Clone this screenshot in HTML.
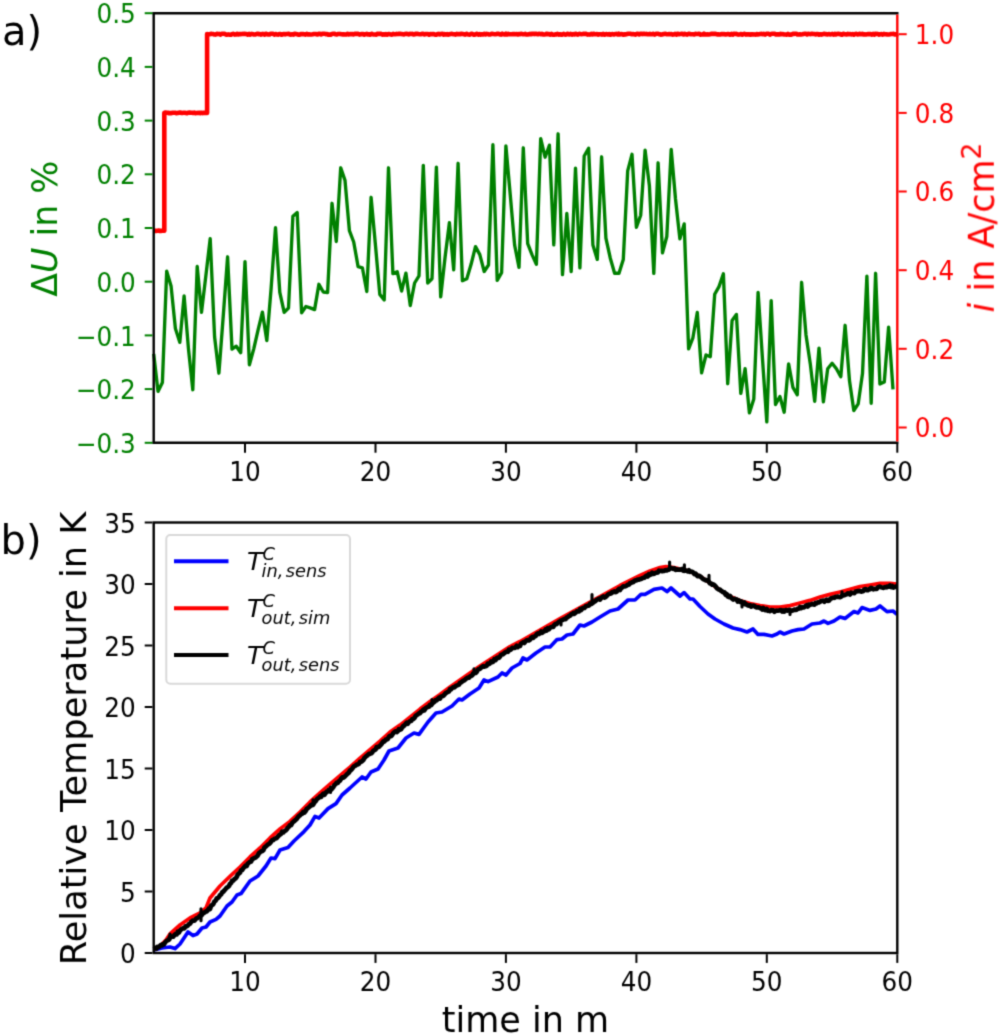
<!DOCTYPE html>
<html lang="en"><head><meta charset="utf-8"><title>Figure</title>
<style>html,body{margin:0;padding:0;background:#fff}svg{display:block}#fig{width:1000px;height:1035px;overflow:hidden}text{font-family:"DejaVu Sans","Liberation Sans",sans-serif}.it{font-style:italic}</style></head><body><div id="fig">
<svg width="1000" height="1035" viewBox="0 0 1000 1035">
<defs><filter id="soft" x="0" y="0" width="1000" height="1035" filterUnits="userSpaceOnUse" color-interpolation-filters="sRGB"><feConvolveMatrix order="3" kernelMatrix="0.0277 0.1110 0.0277 0.1110 0.4452 0.1110 0.0277 0.1110 0.0277" edgeMode="duplicate" preserveAlpha="false"/></filter></defs>
<rect width="1000" height="1035" fill="#fff"/>
<g filter="url(#soft)">
<g id="top">
<path d="M153.7 353.9 L158.0 391.4 L162.4 382.4 L166.7 271.1 L171.1 286.3 L175.4 328.6 L179.8 342.3 L184.1 295.9 L188.5 349.1 L192.8 389.7 L197.2 266.5 L201.5 312.4 L205.9 275.4 L210.2 238.7 L214.6 337.0 L218.9 373.2 L223.3 315.3 L227.6 256.8 L232.0 349.1 L236.3 346.2 L240.7 352.7 L245.0 261.6 L249.4 364.8 L253.7 349.1 L258.1 329.8 L262.4 312.1 L266.8 340.6 L271.1 288.7 L275.5 227.6 L279.8 292.3 L284.2 312.4 L288.5 308.0 L292.9 216.2 L297.2 212.6 L301.6 312.8 L305.9 306.5 L310.2 307.9 L314.6 309.6 L318.9 284.3 L323.3 292.0 L327.6 292.5 L332.0 203.3 L336.3 241.5 L340.7 167.8 L345.0 180.4 L349.4 230.6 L353.7 242.0 L358.1 266.6 L362.4 267.8 L366.8 291.5 L371.1 197.3 L375.5 245.6 L379.8 294.4 L384.2 300.0 L388.5 167.8 L392.9 273.6 L397.2 271.7 L401.6 291.0 L405.9 273.1 L410.3 305.5 L414.6 283.0 L419.0 275.8 L423.3 165.4 L427.7 283.0 L432.0 278.7 L436.4 167.1 L440.7 296.9 L445.1 257.0 L449.4 222.7 L453.7 269.8 L458.1 163.3 L462.4 280.7 L466.8 278.7 L471.1 264.3 L475.5 246.6 L479.8 254.6 L484.2 271.5 L488.5 265.0 L492.9 144.7 L497.2 280.4 L501.6 272.7 L505.9 145.9 L510.3 195.4 L514.6 244.9 L519.0 267.4 L523.3 147.8 L527.7 243.7 L532.0 254.6 L536.4 264.3 L540.7 138.6 L545.1 157.2 L549.4 145.2 L553.8 244.9 L558.1 133.8 L562.5 274.6 L566.8 213.5 L571.2 271.5 L575.5 168.1 L579.9 267.9 L584.2 156.0 L588.6 148.3 L592.9 244.9 L597.3 259.4 L601.6 156.8 L605.9 238.2 L610.3 258.2 L614.6 273.2 L619.0 273.2 L623.3 259.4 L627.7 170.8 L632.0 154.3 L636.4 227.3 L640.7 215.2 L645.1 150.2 L649.4 185.7 L653.8 273.4 L658.1 162.8 L662.5 252.9 L666.8 236.5 L671.2 149.5 L675.5 199.0 L679.9 238.9 L684.2 223.9 L688.6 348.9 L692.9 337.8 L697.3 312.5 L701.6 372.9 L706.0 355.0 L710.3 356.7 L714.7 294.3 L719.0 286.6 L723.4 273.8 L727.7 383.7 L732.1 320.4 L736.4 314.4 L740.8 393.4 L745.1 368.7 L749.4 412.9 L753.8 398.9 L758.1 292.4 L762.5 359.1 L766.8 421.9 L771.2 300.6 L775.5 404.5 L779.9 396.5 L784.2 412.2 L788.6 363.9 L792.9 387.3 L797.3 394.8 L801.6 282.3 L806.0 334.9 L810.3 363.9 L814.7 401.4 L819.0 348.2 L823.4 401.8 L827.7 368.7 L832.1 363.2 L836.4 368.7 L840.8 376.7 L845.1 325.3 L849.5 380.8 L853.8 410.5 L858.2 403.8 L862.5 373.6 L866.9 276.2 L871.2 403.3 L875.6 273.3 L879.9 384.0 L884.3 382.0 L888.6 327.2 L893.0 389.3" fill="none" stroke="#008000" stroke-width="3.35" stroke-linejoin="round" stroke-linecap="butt"/>
<path d="M153.7 230.7 L154.9 230.9 L156.1 230.9 L157.3 230.7 L158.5 230.6 L159.7 230.9 L160.9 230.9 L162.1 230.8 L163.3 230.7 L164.3 230.8 L164.3 112.9 L165.5 112.5 L166.7 112.7 L167.9 112.8 L169.1 113.2 L170.3 113.0 L171.5 113.1 L172.7 112.8 L173.9 112.7 L175.1 112.7 L176.3 113.2 L177.5 113.0 L178.7 112.7 L179.9 112.5 L181.1 112.9 L182.3 113.0 L183.5 112.8 L184.7 112.7 L185.9 113.0 L187.1 113.2 L188.3 112.7 L189.5 112.5 L190.7 112.7 L191.9 112.8 L193.1 113.0 L194.3 112.6 L195.5 113.1 L196.7 113.0 L197.9 112.9 L199.1 112.7 L200.3 113.2 L201.5 112.7 L202.7 113.1 L203.9 112.7 L205.1 112.7 L206.3 113.0 L207.1 112.9 L207.1 34.0 L208.3 34.7 L209.5 34.2 L210.7 33.9 L211.9 33.9 L213.1 34.1 L214.3 34.4 L215.5 34.6 L216.7 33.8 L217.9 34.1 L219.1 33.9 L220.3 34.7 L221.5 33.8 L222.7 33.8 L223.9 33.8 L225.1 34.1 L226.3 34.6 L227.5 34.6 L228.7 34.4 L229.9 34.7 L231.1 34.6 L232.3 34.0 L233.5 33.9 L234.7 34.6 L235.9 34.4 L237.1 33.7 L238.3 34.4 L239.5 34.1 L240.7 34.1 L241.9 34.0 L243.1 33.9 L244.3 33.7 L245.5 34.0 L246.7 34.1 L247.9 34.7 L249.1 33.8 L250.3 34.7 L251.5 33.9 L252.7 34.1 L253.9 34.5 L255.1 34.5 L256.3 34.1 L257.5 33.7 L258.7 34.2 L259.9 34.1 L261.1 34.6 L262.3 33.9 L263.5 34.1 L264.7 34.6 L265.9 33.7 L267.1 34.1 L268.3 34.5 L269.5 34.5 L270.7 33.7 L271.9 33.7 L273.1 33.8 L274.3 34.6 L275.5 34.0 L276.7 34.4 L277.9 34.6 L279.1 34.0 L280.3 34.0 L281.5 34.7 L282.7 34.3 L283.9 34.0 L285.1 34.4 L286.3 34.0 L287.5 34.0 L288.7 33.7 L289.9 34.5 L291.1 34.6 L292.3 34.3 L293.5 34.6 L294.7 33.7 L295.9 33.9 L297.1 34.2 L298.3 34.7 L299.5 34.7 L300.7 34.1 L301.9 34.0 L303.1 34.1 L304.3 34.2 L305.5 34.6 L306.7 33.9 L307.9 34.5 L309.1 34.4 L310.3 34.5 L311.5 34.5 L312.7 34.3 L313.9 34.0 L315.1 34.0 L316.3 34.1 L317.5 34.5 L318.7 33.8 L319.9 33.9 L321.1 34.5 L322.3 33.9 L323.5 33.8 L324.7 33.7 L325.9 34.3 L327.1 34.0 L328.3 34.7 L329.5 34.6 L330.7 34.7 L331.9 34.0 L333.1 33.8 L334.3 33.8 L335.5 34.2 L336.7 34.4 L337.9 34.1 L339.1 33.9 L340.3 34.1 L341.5 34.3 L342.7 34.4 L343.9 34.4 L345.1 34.5 L346.3 34.4 L347.5 33.8 L348.7 34.5 L349.9 34.0 L351.1 34.3 L352.3 34.1 L353.5 34.4 L354.7 33.9 L355.9 33.9 L357.1 33.9 L358.3 33.9 L359.5 34.6 L360.7 34.3 L361.9 34.0 L363.1 34.1 L364.3 34.7 L365.5 34.2 L366.7 33.9 L367.9 34.5 L369.1 34.4 L370.3 34.7 L371.5 33.8 L372.7 34.2 L373.9 34.5 L375.1 34.5 L376.3 34.6 L377.5 33.7 L378.7 34.0 L379.9 33.8 L381.1 33.9 L382.3 34.7 L383.5 34.3 L384.7 34.6 L385.9 34.1 L387.1 34.6 L388.3 34.1 L389.5 34.0 L390.7 34.5 L391.9 34.6 L393.1 33.8 L394.3 34.3 L395.5 34.3 L396.7 33.9 L397.9 34.1 L399.1 33.8 L400.3 33.9 L401.5 34.0 L402.7 34.3 L403.9 34.4 L405.1 33.9 L406.3 33.7 L407.5 34.0 L408.7 34.4 L409.9 33.9 L411.1 34.0 L412.3 33.9 L413.5 34.5 L414.7 34.2 L415.9 33.8 L417.1 33.8 L418.3 34.1 L419.5 34.3 L420.7 34.3 L421.9 33.8 L423.1 33.9 L424.3 34.4 L425.5 34.1 L426.7 34.0 L427.9 34.0 L429.1 34.7 L430.3 34.0 L431.5 34.3 L432.7 34.1 L433.9 34.1 L435.1 34.6 L436.3 34.7 L437.5 34.1 L438.7 33.9 L439.9 34.4 L441.1 33.9 L442.3 33.7 L443.5 34.6 L444.7 34.1 L445.9 34.5 L447.1 34.1 L448.3 34.6 L449.5 34.2 L450.7 33.9 L451.9 33.7 L453.1 34.3 L454.3 34.3 L455.5 34.6 L456.7 33.8 L457.9 34.3 L459.1 34.1 L460.3 34.2 L461.5 33.8 L462.7 34.0 L463.9 34.2 L465.1 34.6 L466.3 33.8 L467.5 34.2 L468.7 34.5 L469.9 34.7 L471.1 33.9 L472.3 33.8 L473.5 34.6 L474.7 34.7 L475.9 34.2 L477.1 33.8 L478.3 34.6 L479.5 34.1 L480.7 34.6 L481.9 34.3 L483.1 34.5 L484.3 33.9 L485.5 34.5 L486.7 33.9 L487.9 34.1 L489.1 34.5 L490.3 34.5 L491.5 33.9 L492.7 33.9 L493.9 34.1 L495.1 34.2 L496.3 34.1 L497.5 33.8 L498.7 33.9 L499.9 34.4 L501.1 34.6 L502.3 33.7 L503.5 34.3 L504.7 34.5 L505.9 33.7 L507.1 34.5 L508.3 33.8 L509.5 34.3 L510.7 34.3 L511.9 34.3 L513.1 34.0 L514.3 34.1 L515.5 34.3 L516.7 34.1 L517.9 34.4 L519.1 34.1 L520.3 34.1 L521.5 33.7 L522.7 34.3 L523.9 34.2 L525.1 33.9 L526.3 34.5 L527.5 34.5 L528.7 34.2 L529.9 33.9 L531.1 34.2 L532.3 33.8 L533.5 33.8 L534.7 34.1 L535.9 33.8 L537.1 34.1 L538.3 34.2 L539.5 33.7 L540.7 34.3 L541.9 33.8 L543.1 34.4 L544.3 34.5 L545.5 34.2 L546.7 33.8 L547.9 34.2 L549.1 34.1 L550.3 34.7 L551.5 33.8 L552.7 34.6 L553.9 34.7 L555.1 34.4 L556.3 34.5 L557.5 33.9 L558.7 34.7 L559.9 34.2 L561.1 34.7 L562.3 34.6 L563.5 33.9 L564.7 34.5 L565.9 34.6 L567.1 33.8 L568.3 34.1 L569.5 34.5 L570.7 33.9 L571.9 34.6 L573.1 34.0 L574.3 34.5 L575.5 33.8 L576.7 34.2 L577.9 34.6 L579.1 33.9 L580.3 34.0 L581.5 34.2 L582.7 34.0 L583.9 33.7 L585.1 33.9 L586.3 33.9 L587.5 34.6 L588.7 34.4 L589.9 34.6 L591.1 33.9 L592.3 34.5 L593.5 33.8 L594.7 34.2 L595.9 34.3 L597.1 34.1 L598.3 34.6 L599.5 34.3 L600.7 34.3 L601.9 34.6 L603.1 33.8 L604.3 34.7 L605.5 34.3 L606.7 34.1 L607.9 34.5 L609.1 34.0 L610.3 34.7 L611.5 34.3 L612.7 34.1 L613.9 34.5 L615.1 34.1 L616.3 33.9 L617.5 34.4 L618.7 33.7 L619.9 34.5 L621.1 34.0 L622.3 34.3 L623.5 34.7 L624.7 34.3 L625.9 34.4 L627.1 34.0 L628.3 33.7 L629.5 33.7 L630.7 33.8 L631.9 34.3 L633.1 34.1 L634.3 34.2 L635.5 34.6 L636.7 33.8 L637.9 33.9 L639.1 34.4 L640.3 33.7 L641.5 33.7 L642.7 34.1 L643.9 33.8 L645.1 34.1 L646.3 33.9 L647.5 34.3 L648.7 34.3 L649.9 33.9 L651.1 34.3 L652.3 34.2 L653.5 33.8 L654.7 34.6 L655.9 33.9 L657.1 33.8 L658.3 33.8 L659.5 34.3 L660.7 34.6 L661.9 34.5 L663.1 34.1 L664.3 34.0 L665.5 33.7 L666.7 34.3 L667.9 34.3 L669.1 34.1 L670.3 34.3 L671.5 34.1 L672.7 34.6 L673.9 34.4 L675.1 33.9 L676.3 34.6 L677.5 33.7 L678.7 34.2 L679.9 34.1 L681.1 33.9 L682.3 33.8 L683.5 34.5 L684.7 33.7 L685.9 34.3 L687.1 34.6 L688.3 33.8 L689.5 33.9 L690.7 34.3 L691.9 34.2 L693.1 34.3 L694.3 34.5 L695.5 33.9 L696.7 34.0 L697.9 34.0 L699.1 33.7 L700.3 34.6 L701.5 34.5 L702.7 34.4 L703.9 33.7 L705.1 34.5 L706.3 34.4 L707.5 34.2 L708.7 34.4 L709.9 34.2 L711.1 33.9 L712.3 33.8 L713.5 33.9 L714.7 33.7 L715.9 34.0 L717.1 34.4 L718.3 34.4 L719.5 34.5 L720.7 34.4 L721.9 34.0 L723.1 34.3 L724.3 34.1 L725.5 34.5 L726.7 34.2 L727.9 34.0 L729.1 34.3 L730.3 34.7 L731.5 33.9 L732.7 34.6 L733.9 33.7 L735.1 34.0 L736.3 33.9 L737.5 34.4 L738.7 34.6 L739.9 34.4 L741.1 34.0 L742.3 34.6 L743.5 34.0 L744.7 33.9 L745.9 34.6 L747.1 34.3 L748.3 34.4 L749.5 34.4 L750.7 34.7 L751.9 34.2 L753.1 34.5 L754.3 34.4 L755.5 34.6 L756.7 34.1 L757.9 34.4 L759.1 34.3 L760.3 34.0 L761.5 33.9 L762.7 34.3 L763.9 33.8 L765.1 34.6 L766.3 33.8 L767.5 33.7 L768.7 33.8 L769.9 34.6 L771.1 34.0 L772.3 33.8 L773.5 33.7 L774.7 33.7 L775.9 34.4 L777.1 34.3 L778.3 34.4 L779.5 34.4 L780.7 33.8 L781.9 34.3 L783.1 34.1 L784.3 34.5 L785.5 34.5 L786.7 34.6 L787.9 33.8 L789.1 34.6 L790.3 34.6 L791.5 34.6 L792.7 33.8 L793.9 33.9 L795.1 33.8 L796.3 33.7 L797.5 34.5 L798.7 34.5 L799.9 34.3 L801.1 34.5 L802.3 34.3 L803.5 34.0 L804.7 33.8 L805.9 33.8 L807.1 34.5 L808.3 33.9 L809.5 34.0 L810.7 34.1 L811.9 33.7 L813.1 34.0 L814.3 34.0 L815.5 34.4 L816.7 34.1 L817.9 34.0 L819.1 34.7 L820.3 34.2 L821.5 34.6 L822.7 34.3 L823.9 33.7 L825.1 34.1 L826.3 34.1 L827.5 34.5 L828.7 34.0 L829.9 34.4 L831.1 34.2 L832.3 33.9 L833.5 34.6 L834.7 33.8 L835.9 34.5 L837.1 33.9 L838.3 33.7 L839.5 33.9 L840.7 34.5 L841.9 34.7 L843.1 33.7 L844.3 34.2 L845.5 34.2 L846.7 34.5 L847.9 33.9 L849.1 34.2 L850.3 34.0 L851.5 34.5 L852.7 34.0 L853.9 34.6 L855.1 34.0 L856.3 33.9 L857.5 34.4 L858.7 34.2 L859.9 33.8 L861.1 34.3 L862.3 33.8 L863.5 34.5 L864.7 34.4 L865.9 34.5 L867.1 34.3 L868.3 34.1 L869.5 34.1 L870.7 34.1 L871.9 34.6 L873.1 33.8 L874.3 34.6 L875.5 33.7 L876.7 33.9 L877.9 34.0 L879.1 34.6 L880.3 34.2 L881.5 34.1 L882.7 34.6 L883.9 33.9 L885.1 34.2 L886.3 34.2 L887.5 34.5 L888.7 34.5 L889.9 34.3 L891.1 34.0 L892.3 34.0 L893.5 33.9 L894.7 34.5 L895.9 34.4 L897.1 34.4 L897.3 34.2" fill="none" stroke="#ff0000" stroke-width="4.6" stroke-linejoin="round" stroke-linecap="butt"/>
<path d="M153.7 12.0 V444.0" stroke="#000" stroke-width="2.4" fill="none"/>
<path d="M152.5 13.2 H898.5" stroke="#000" stroke-width="2.4" fill="none"/>
<path d="M152.5 442.8 H898.5" stroke="#000" stroke-width="2.4" fill="none"/>
<path d="M897.3 14.4 V441.6" stroke="#ff0000" stroke-width="2.4" fill="none"/>
<path d="M144.7 13.2 H152.5" stroke="#008000" stroke-width="2.0"/>
<text transform="translate(135.8 23.3) scale(0.99 1.06)" font-size="25" fill="#008000" text-anchor="end">0.5</text>
<path d="M144.7 66.9 H152.5" stroke="#008000" stroke-width="2.0"/>
<text transform="translate(135.8 77.0) scale(0.99 1.06)" font-size="25" fill="#008000" text-anchor="end">0.4</text>
<path d="M144.7 120.6 H152.5" stroke="#008000" stroke-width="2.0"/>
<text transform="translate(135.8 130.7) scale(0.99 1.06)" font-size="25" fill="#008000" text-anchor="end">0.3</text>
<path d="M144.7 174.3 H152.5" stroke="#008000" stroke-width="2.0"/>
<text transform="translate(135.8 184.4) scale(0.99 1.06)" font-size="25" fill="#008000" text-anchor="end">0.2</text>
<path d="M144.7 228.0 H152.5" stroke="#008000" stroke-width="2.0"/>
<text transform="translate(135.8 238.1) scale(0.99 1.06)" font-size="25" fill="#008000" text-anchor="end">0.1</text>
<path d="M144.7 281.7 H152.5" stroke="#008000" stroke-width="2.0"/>
<text transform="translate(135.8 291.8) scale(0.99 1.06)" font-size="25" fill="#008000" text-anchor="end">0.0</text>
<path d="M144.7 335.4 H152.5" stroke="#008000" stroke-width="2.0"/>
<text transform="translate(135.8 345.5) scale(0.99 1.06)" font-size="25" fill="#008000" text-anchor="end">−0.1</text>
<path d="M144.7 389.1 H152.5" stroke="#008000" stroke-width="2.0"/>
<text transform="translate(135.8 399.2) scale(0.99 1.06)" font-size="25" fill="#008000" text-anchor="end">−0.2</text>
<path d="M144.7 442.8 H152.5" stroke="#008000" stroke-width="2.0"/>
<text transform="translate(135.8 452.9) scale(0.99 1.06)" font-size="25" fill="#008000" text-anchor="end">−0.3</text>
<path d="M898.5 427.5 H906.7" stroke="#ff0000" stroke-width="2.0"/>
<text transform="translate(914.8 437.4) scale(0.99 1.06)" font-size="25" fill="#ff0000" text-anchor="start">0.0</text>
<path d="M898.5 348.8 H906.7" stroke="#ff0000" stroke-width="2.0"/>
<text transform="translate(914.8 358.7) scale(0.99 1.06)" font-size="25" fill="#ff0000" text-anchor="start">0.2</text>
<path d="M898.5 270.2 H906.7" stroke="#ff0000" stroke-width="2.0"/>
<text transform="translate(914.8 280.1) scale(0.99 1.06)" font-size="25" fill="#ff0000" text-anchor="start">0.4</text>
<path d="M898.5 191.5 H906.7" stroke="#ff0000" stroke-width="2.0"/>
<text transform="translate(914.8 201.4) scale(0.99 1.06)" font-size="25" fill="#ff0000" text-anchor="start">0.6</text>
<path d="M898.5 112.9 H906.7" stroke="#ff0000" stroke-width="2.0"/>
<text transform="translate(914.8 122.8) scale(0.99 1.06)" font-size="25" fill="#ff0000" text-anchor="start">0.8</text>
<path d="M898.5 34.2 H906.7" stroke="#ff0000" stroke-width="2.0"/>
<text transform="translate(914.8 44.1) scale(0.99 1.06)" font-size="25" fill="#ff0000" text-anchor="start">1.0</text>
<path d="M245.0 444.0 V452.7" stroke="#000" stroke-width="2.0"/>
<text transform="translate(245.0 480.8) scale(0.99 1.06)" font-size="25" fill="#000" text-anchor="middle">10</text>
<path d="M375.5 444.0 V452.7" stroke="#000" stroke-width="2.0"/>
<text transform="translate(375.5 480.8) scale(0.99 1.06)" font-size="25" fill="#000" text-anchor="middle">20</text>
<path d="M505.9 444.0 V452.7" stroke="#000" stroke-width="2.0"/>
<text transform="translate(505.9 480.8) scale(0.99 1.06)" font-size="25" fill="#000" text-anchor="middle">30</text>
<path d="M636.4 444.0 V452.7" stroke="#000" stroke-width="2.0"/>
<text transform="translate(636.4 480.8) scale(0.99 1.06)" font-size="25" fill="#000" text-anchor="middle">40</text>
<path d="M766.8 444.0 V452.7" stroke="#000" stroke-width="2.0"/>
<text transform="translate(766.8 480.8) scale(0.99 1.06)" font-size="25" fill="#000" text-anchor="middle">50</text>
<path d="M897.3 444.0 V452.7" stroke="#000" stroke-width="2.0"/>
<text transform="translate(897.3 480.8) scale(0.99 1.06)" font-size="25" fill="#000" text-anchor="middle">60</text>
<text transform="translate(57.2 228.7) rotate(-90) scale(0.972 1)" font-size="35.8" fill="#008000" text-anchor="middle">Δ<tspan class="it">U</tspan> in %</text>
<text transform="translate(993.8 227.5) rotate(-90)" font-size="35" fill="#ff0000" text-anchor="middle"><tspan class="it">i</tspan> in A/cm<tspan font-size="26.5" dy="-13.4">2</tspan></text>
<text x="2.1" y="44.8" font-size="40" fill="#000">a)</text>
</g>
<g id="bottom">
<rect x="166.3" y="535" width="183.7" height="148.8" rx="4" ry="4" fill="#fff" fill-opacity="0.8" stroke="#d9d9d9" stroke-width="2.0"/>
<path d="M154.0 950.0 L162.0 948.0 L170.0 947.0 L175.0 948.6 L180.0 944.0 L188.0 932.0 L193.0 935.6 L197.0 934.0 L202.0 928.0 L206.0 927.0 L210.0 922.0 L216.0 919.4 L220.0 916.0 L227.0 906.0 L232.0 902.0 L237.0 895.0 L241.0 893.6 L250.0 881.0 L258.0 876.0 L266.0 866.0 L271.0 858.0 L275.0 858.6 L280.0 850.0 L288.0 847.6 L294.0 841.0 L304.0 831.6 L310.0 825.0 L315.0 816.4 L319.0 818.0 L328.0 808.6 L336.0 803.6 L342.0 795.0 L350.0 788.0 L362.0 777.0 L366.0 779.0 L371.0 772.0 L378.0 769.0 L384.0 760.0 L389.0 751.0 L398.0 748.0 L406.0 738.0 L414.0 733.0 L419.0 734.4 L428.0 722.0 L436.0 713.0 L442.0 712.0 L452.0 706.0 L459.0 699.0 L462.0 700.0 L470.0 694.0 L479.0 688.0 L484.0 680.0 L488.0 681.6 L498.0 677.0 L502.0 673.0 L506.0 675.0 L512.0 668.0 L520.0 663.5 L523.0 658.0 L527.0 660.0 L536.0 653.0 L545.0 647.0 L550.0 647.0 L557.0 639.6 L562.0 639.0 L567.0 635.0 L573.0 634.0 L580.0 625.0 L584.0 626.0 L592.0 622.0 L600.0 617.0 L610.0 611.0 L618.0 609.0 L628.0 600.0 L635.0 600.0 L641.0 594.4 L645.0 594.4 L654.0 589.4 L662.0 588.0 L667.0 591.6 L671.0 588.0 L680.0 596.0 L684.0 592.6 L690.0 599.0 L693.0 599.0 L700.0 606.5 L708.0 614.0 L715.0 619.0 L724.0 624.0 L733.0 628.0 L740.0 629.6 L747.0 632.0 L753.0 629.0 L758.0 634.4 L764.0 634.4 L772.0 636.0 L777.0 634.0 L780.0 632.0 L784.0 634.0 L792.0 631.0 L798.0 629.6 L804.0 629.0 L812.0 624.0 L820.0 623.0 L824.0 621.0 L828.0 623.4 L834.0 621.0 L840.0 617.0 L845.0 618.4 L854.0 611.6 L858.0 613.0 L862.0 607.6 L870.0 610.4 L876.0 609.0 L880.0 606.0 L887.0 611.6 L893.0 611.0 L897.0 614.4" fill="none" stroke="#0000ff" stroke-width="3.7" stroke-linejoin="round"/>
<path d="M154.0 949.5 L160.0 946.0 L166.0 940.0 L170.0 934.0 L180.0 925.0 L190.0 918.0 L200.0 913.0 L206.0 908.0 L210.0 898.0 L220.0 886.0 L230.0 876.4 L240.0 867.0 L250.0 857.0 L260.0 848.0 L270.0 838.0 L280.0 829.0 L290.0 821.4 L300.0 812.0 L310.0 802.0 L320.0 793.0 L330.0 784.1 L340.0 775.6 L350.0 767.1 L360.0 758.1 L370.0 749.6 L380.0 741.1 L390.0 732.1 L400.0 725.1 L410.0 717.1 L420.0 709.1 L430.0 701.6 L440.0 694.6 L450.0 687.1 L460.0 680.1 L470.0 673.1 L480.0 666.1 L490.0 659.6 L500.0 653.1 L510.0 646.6 L520.0 641.5 L540.0 630.0 L560.0 618.5 L580.0 607.5 L600.0 596.5 L620.0 585.5 L640.0 575.5 L650.0 571.0 L660.0 567.6 L666.0 566.6 L674.0 567.6 L680.0 569.0 L690.0 571.4 L700.0 576.4 L710.0 583.0 L720.0 590.0 L730.0 596.5 L740.0 600.5 L750.0 603.5 L760.0 605.6 L770.0 607.0 L780.0 607.0 L790.0 605.6 L800.0 603.0 L810.0 600.4 L820.0 597.0 L830.0 594.4 L840.0 592.0 L850.0 589.4 L860.0 586.6 L870.0 585.0 L880.0 583.4 L890.0 583.4 L897.0 584.0" fill="none" stroke="#ff0000" stroke-width="3.7" stroke-linejoin="round"/>
<path d="M154.0 949.1 L155.1 948.2 L156.2 948.7 L157.3 946.9 L158.4 947.3 L159.6 946.4 L160.7 945.2 L161.8 945.5 L162.9 944.0 L164.0 944.3 L165.2 942.3 L166.4 941.0 L167.6 940.4 L168.8 939.9 L170.0 937.2 L171.1 936.7 L172.2 936.7 L173.3 936.6 L174.4 935.0 L175.6 933.9 L176.7 934.3 L177.8 931.6 L178.9 932.5 L180.0 930.6 L181.1 929.5 L182.2 928.6 L183.3 928.2 L184.4 928.3 L185.6 926.3 L186.7 926.2 L187.8 925.5 L188.9 924.2 L190.0 923.7 L191.1 921.9 L192.2 921.0 L193.3 920.5 L194.4 920.6 L195.6 919.2 L196.7 918.2 L197.8 917.9 L198.9 916.8 L200.0 915.6 L201.1 915.7 L202.2 914.6 L203.3 912.8 L204.4 912.6 L205.6 911.6 L206.7 911.4 L207.8 910.2 L208.9 908.5 L210.0 909.0 L211.1 905.8 L212.2 904.9 L213.3 904.2 L214.4 901.5 L215.6 900.8 L216.7 898.4 L217.8 898.2 L218.9 897.0 L220.0 895.1 L221.1 894.5 L222.2 892.2 L223.3 891.7 L224.4 890.3 L225.6 889.0 L226.7 887.6 L227.8 887.1 L228.9 886.1 L230.0 883.9 L231.1 883.0 L232.2 880.5 L233.3 880.5 L234.4 879.1 L235.6 878.5 L236.7 876.9 L237.8 874.5 L238.9 873.5 L240.0 872.7 L241.1 870.3 L242.2 870.0 L243.3 868.3 L244.4 867.0 L245.6 865.7 L246.7 866.0 L247.8 863.6 L248.9 862.7 L250.0 861.8 L251.1 861.7 L252.2 859.1 L253.3 858.8 L254.4 857.9 L255.6 857.5 L256.7 856.4 L257.8 855.4 L258.9 853.2 L260.0 852.4 L261.1 851.3 L262.2 851.2 L263.3 850.3 L264.4 847.6 L265.6 846.6 L266.7 845.7 L267.8 844.6 L268.9 844.0 L270.0 843.2 L271.1 841.6 L272.2 840.1 L273.3 840.0 L274.4 838.9 L275.6 838.4 L276.7 838.2 L277.8 836.7 L278.9 835.4 L280.0 834.6 L281.1 833.8 L282.2 831.6 L283.3 832.4 L284.4 831.2 L285.6 830.5 L286.7 829.4 L287.8 827.7 L288.9 826.7 L290.0 825.2 L291.1 825.2 L292.2 822.9 L293.3 821.8 L294.4 821.0 L295.6 819.8 L296.7 819.0 L297.8 817.3 L298.9 816.1 L300.0 815.3 L301.1 814.2 L302.2 813.6 L303.3 811.9 L304.4 812.6 L305.6 811.0 L306.7 809.0 L307.8 808.2 L308.9 807.3 L310.0 806.3 L311.1 804.8 L312.2 805.2 L313.3 804.4 L314.4 802.3 L315.6 801.2 L316.7 799.4 L317.8 798.3 L318.9 797.8 L320.0 796.5 L321.1 796.9 L322.2 794.8 L323.3 793.7 L324.4 794.8 L325.6 793.2 L326.7 791.6 L327.8 791.6 L328.9 789.8 L330.0 790.1 L331.1 789.8 L332.2 788.5 L333.3 787.1 L334.4 785.1 L335.6 784.2 L336.7 782.7 L337.8 782.8 L338.9 781.2 L340.0 780.6 L341.1 778.7 L342.2 777.4 L343.3 777.6 L344.4 777.0 L345.6 775.7 L346.7 774.6 L347.8 773.6 L348.9 772.5 L350.0 770.5 L351.1 770.0 L352.2 768.7 L353.3 767.1 L354.4 766.1 L355.6 765.6 L356.7 764.5 L357.8 764.4 L358.9 763.9 L360.0 761.9 L361.1 761.9 L362.2 761.1 L363.3 760.1 L364.4 758.0 L365.6 756.8 L366.7 755.9 L367.8 754.9 L368.9 753.9 L370.0 753.8 L371.1 753.4 L372.2 752.4 L373.3 750.7 L374.4 750.1 L375.6 749.4 L376.7 747.0 L377.8 747.2 L378.9 746.8 L380.0 745.6 L381.1 744.5 L382.2 743.0 L383.3 741.4 L384.4 741.6 L385.6 739.7 L386.7 739.6 L387.8 738.9 L388.9 736.8 L390.0 735.8 L391.1 736.1 L392.2 734.9 L393.3 733.0 L394.4 732.1 L395.6 731.4 L396.7 732.1 L397.8 731.2 L398.9 729.1 L400.0 729.7 L401.1 729.1 L402.2 727.5 L403.3 726.0 L404.4 725.5 L405.6 723.8 L406.7 722.7 L407.8 723.7 L408.9 722.2 L410.0 721.1 L411.1 721.0 L412.2 719.1 L413.3 719.1 L414.4 718.1 L415.6 716.0 L416.7 715.2 L417.8 714.4 L418.9 713.4 L420.0 713.2 L421.1 711.6 L422.2 711.1 L423.3 709.6 L424.4 710.3 L425.6 708.3 L426.7 707.6 L427.8 706.9 L428.9 706.7 L430.0 704.8 L431.1 705.1 L432.2 703.4 L433.3 702.7 L434.4 701.9 L435.6 700.1 L436.7 700.2 L437.8 698.9 L438.9 697.8 L440.0 698.6 L441.1 696.5 L442.2 696.2 L443.3 695.8 L444.4 694.6 L445.6 693.2 L446.7 692.7 L447.8 691.9 L448.9 691.5 L450.0 689.2 L451.1 689.3 L452.2 687.9 L453.3 687.2 L454.4 687.4 L455.6 686.1 L456.7 685.5 L457.8 685.1 L458.9 684.6 L460.0 682.9 L461.1 682.4 L462.2 681.5 L463.3 680.7 L464.4 680.3 L465.6 679.0 L466.7 678.4 L467.8 677.5 L468.9 677.7 L470.0 676.4 L471.1 676.0 L472.2 675.3 L473.3 673.2 L474.4 673.0 L475.6 673.0 L476.7 672.0 L477.8 669.8 L478.9 669.0 L480.0 668.9 L481.1 667.5 L482.2 667.1 L483.3 666.1 L484.4 666.7 L485.6 666.2 L486.7 665.8 L487.8 663.6 L488.9 664.1 L490.0 663.3 L491.1 661.5 L492.2 662.2 L493.3 661.6 L494.4 659.3 L495.6 660.0 L496.7 658.1 L497.8 657.5 L498.9 657.8 L500.0 656.7 L501.1 654.7 L502.2 654.5 L503.3 654.0 L504.4 653.0 L505.6 652.1 L506.7 651.6 L507.8 651.8 L508.9 649.7 L510.0 650.1 L511.1 649.3 L512.2 647.9 L513.3 648.0 L514.4 648.0 L515.6 647.2 L516.7 645.8 L517.8 647.1 L518.9 646.1 L520.0 645.9 L521.1 643.5 L522.2 643.2 L523.3 642.1 L524.4 642.9 L525.6 641.2 L526.7 640.3 L527.8 640.2 L528.9 640.5 L530.0 639.6 L531.1 637.9 L532.2 637.0 L533.3 637.8 L534.4 636.5 L535.6 636.1 L536.7 634.2 L537.8 633.4 L538.9 634.0 L540.0 632.9 L541.1 631.6 L542.2 632.8 L543.3 631.6 L544.4 631.4 L545.6 629.4 L546.7 630.4 L547.8 628.2 L548.9 629.3 L550.0 627.9 L551.1 627.0 L552.2 626.8 L553.3 626.9 L554.4 624.9 L555.6 623.9 L556.7 624.1 L557.8 622.8 L558.9 621.9 L560.0 621.3 L561.1 620.4 L562.2 620.1 L563.3 619.6 L564.4 618.9 L565.6 619.2 L566.7 617.6 L567.8 617.3 L568.9 616.0 L570.0 615.7 L571.1 614.4 L572.2 614.2 L573.3 613.0 L574.4 613.8 L575.6 612.8 L576.7 611.4 L577.8 611.3 L578.9 611.5 L580.0 609.2 L581.1 610.0 L582.2 608.5 L583.3 608.0 L584.4 608.0 L585.6 606.5 L586.7 606.0 L587.8 605.7 L588.9 605.6 L590.0 603.7 L591.1 604.1 L592.2 603.3 L593.3 602.6 L594.4 601.6 L595.6 600.9 L596.7 599.8 L597.8 599.4 L598.9 598.7 L600.0 599.5 L601.1 598.0 L602.2 597.2 L603.3 596.5 L604.4 597.5 L605.6 597.0 L606.7 596.0 L607.8 594.7 L608.9 594.0 L610.0 593.6 L611.1 593.4 L612.2 592.2 L613.3 592.2 L614.4 591.3 L615.6 592.1 L616.7 591.6 L617.8 590.2 L618.9 589.0 L620.0 589.9 L621.1 588.1 L622.2 587.6 L623.3 586.3 L624.4 586.5 L625.6 586.2 L626.7 585.7 L627.8 584.5 L628.9 584.6 L630.0 583.0 L631.1 583.0 L632.2 582.1 L633.3 582.1 L634.4 580.9 L635.6 580.3 L636.7 580.3 L637.8 579.6 L638.9 579.7 L640.0 579.1 L641.1 579.0 L642.2 578.3 L643.3 577.9 L644.4 577.7 L645.6 576.2 L646.7 575.6 L647.8 576.4 L648.9 574.2 L650.0 574.8 L651.1 574.3 L652.2 572.7 L653.3 573.9 L654.4 573.7 L655.6 572.8 L656.7 572.6 L657.8 572.4 L658.9 570.7 L660.0 571.0 L661.1 570.8 L662.2 571.2 L663.3 570.9 L664.4 570.8 L665.6 570.1 L666.7 570.5 L667.8 569.8 L668.9 569.6 L670.0 568.5 L671.1 568.1 L672.2 568.4 L673.3 568.9 L674.4 568.4 L675.6 569.9 L676.7 569.4 L677.8 569.6 L678.9 569.6 L680.0 569.8 L681.1 569.6 L682.2 568.9 L683.3 570.7 L684.4 570.8 L685.6 570.5 L686.7 570.8 L687.8 571.3 L688.9 570.3 L690.0 571.9 L691.1 571.5 L692.2 571.7 L693.3 572.6 L694.4 574.1 L695.6 573.6 L696.7 575.2 L697.8 576.2 L698.9 575.8 L700.0 576.2 L701.1 577.1 L702.2 578.2 L703.3 579.1 L704.4 579.6 L705.6 580.4 L706.7 580.0 L707.8 580.8 L708.9 581.8 L710.0 583.5 L711.1 583.4 L712.2 584.7 L713.3 584.4 L714.4 585.2 L715.6 586.4 L716.7 588.0 L717.8 588.8 L718.9 589.6 L720.0 589.6 L721.1 590.8 L722.2 591.5 L723.3 592.3 L724.4 592.3 L725.6 594.7 L726.7 594.1 L727.8 596.4 L728.9 597.1 L730.0 596.0 L731.1 597.4 L732.2 598.7 L733.3 599.5 L734.4 598.9 L735.6 599.1 L736.7 599.5 L737.8 601.5 L738.9 600.5 L740.0 601.8 L741.1 601.3 L742.2 602.5 L743.3 603.8 L744.4 602.6 L745.6 604.5 L746.7 604.3 L747.8 605.5 L748.9 605.6 L750.0 605.1 L751.1 606.7 L752.2 606.2 L753.3 605.6 L754.4 605.9 L755.6 607.1 L756.7 607.4 L757.8 607.4 L758.9 607.4 L760.0 608.1 L761.1 608.3 L762.2 609.5 L763.3 608.1 L764.4 609.8 L765.6 610.2 L766.7 609.0 L767.8 610.8 L768.9 610.6 L770.0 611.2 L771.1 610.0 L772.2 610.3 L773.3 610.4 L774.4 611.7 L775.6 610.9 L776.7 610.5 L777.8 610.7 L778.9 610.5 L780.0 610.1 L781.1 610.1 L782.2 611.5 L783.3 610.4 L784.4 611.6 L785.6 610.2 L786.7 610.1 L787.8 610.6 L788.9 609.8 L790.0 610.1 L791.1 611.0 L792.2 610.6 L793.3 610.2 L794.4 609.6 L795.6 609.9 L796.7 609.7 L797.8 608.6 L798.9 608.7 L800.0 607.1 L801.1 608.1 L802.2 607.2 L803.3 607.5 L804.4 607.0 L805.6 605.9 L806.7 605.1 L807.8 606.5 L808.9 604.6 L810.0 604.9 L811.1 604.4 L812.2 603.9 L813.3 604.5 L814.4 604.6 L815.6 602.9 L816.7 603.3 L817.8 602.3 L818.9 602.4 L820.0 601.8 L821.1 601.0 L822.2 600.7 L823.3 600.5 L824.4 601.7 L825.6 600.5 L826.7 599.7 L827.8 600.8 L828.9 600.7 L830.0 599.3 L831.1 598.3 L832.2 598.1 L833.3 597.6 L834.4 597.8 L835.6 596.9 L836.7 596.9 L837.8 596.6 L838.9 596.9 L840.0 597.2 L841.1 596.6 L842.2 595.6 L843.3 595.3 L844.4 595.2 L845.6 594.6 L846.7 594.2 L847.8 593.3 L848.9 593.5 L850.0 594.5 L851.1 592.6 L852.2 593.0 L853.3 593.0 L854.4 593.2 L855.6 591.6 L856.7 591.4 L857.8 591.1 L858.9 591.1 L860.0 590.9 L861.1 591.7 L862.2 591.3 L863.3 591.1 L864.4 589.2 L865.6 589.0 L866.7 590.1 L867.8 590.2 L868.9 589.2 L870.0 589.2 L871.1 587.8 L872.2 588.4 L873.3 589.3 L874.4 588.9 L875.6 588.8 L876.7 588.9 L877.8 587.3 L878.9 586.8 L880.0 586.7 L881.1 587.3 L882.2 587.5 L883.3 587.9 L884.4 587.4 L885.6 587.1 L886.7 587.3 L887.8 586.5 L888.9 586.6 L890.0 585.5 L891.2 587.1 L892.3 586.1 L893.5 587.5 L894.7 587.1 L895.8 586.5 L897.0 586.3" fill="none" stroke="#000" stroke-width="4.7" stroke-linejoin="round"/>
<path d="M201.0 908.7 V920.7 M592.0 594.5 V604.0 M669.6 562.1 V569.6 M684.4 564.8 V570.8 M709.0 575.3 V582.8 M170.0 934.0 V939.5 M313.0 799.7 V805.7 M432.0 699.6 V705.1 M474.0 668.7 V674.2 M330.5 787.0 V792.5 M561.0 620.4 V624.9 M742.0 601.4 V606.9 M790.0 609.4 V614.4 M842.0 591.8 V596.8" fill="none" stroke="#000" stroke-width="3.1" stroke-linecap="round"/>
<path d="M174.0 561.3 H228.5" stroke="#0000ff" stroke-width="4.0"/>
<text class="it" x="247.0" y="569.8" font-size="25.5" fill="#000">T</text>
<text class="it" x="262.6" y="559.9" font-size="17.8" fill="#000">C</text>
<text class="it" x="261.6" y="577.0" font-size="17.8" fill="#000">in, <tspan dx="-3.3">sens</tspan></text>
<path d="M174.0 608.2 H228.5" stroke="#ff0000" stroke-width="4.0"/>
<text class="it" x="247.0" y="616.7" font-size="25.5" fill="#000">T</text>
<text class="it" x="262.6" y="606.8" font-size="17.8" fill="#000">C</text>
<text class="it" x="261.6" y="623.9" font-size="17.8" fill="#000">out, <tspan dx="-3.3">sim</tspan></text>
<path d="M174.0 655.0 H228.5" stroke="#000" stroke-width="4.0"/>
<text class="it" x="247.0" y="663.5" font-size="25.5" fill="#000">T</text>
<text class="it" x="262.6" y="653.6" font-size="17.8" fill="#000">C</text>
<text class="it" x="261.6" y="670.7" font-size="17.8" fill="#000">out, <tspan dx="-3.3">sens</tspan></text>
<rect x="153.7" y="522.5" width="743.6" height="430.5" fill="none" stroke="#000" stroke-width="2.4"/>
<path d="M144.7 953.0 H152.5" stroke="#000" stroke-width="2.0"/>
<text transform="translate(135.8 963.0) scale(0.99 1.06)" font-size="25" fill="#000" text-anchor="end">0</text>
<path d="M144.7 891.5 H152.5" stroke="#000" stroke-width="2.0"/>
<text transform="translate(135.8 901.5) scale(0.99 1.06)" font-size="25" fill="#000" text-anchor="end">5</text>
<path d="M144.7 830.0 H152.5" stroke="#000" stroke-width="2.0"/>
<text transform="translate(135.8 840.0) scale(0.99 1.06)" font-size="25" fill="#000" text-anchor="end">10</text>
<path d="M144.7 768.5 H152.5" stroke="#000" stroke-width="2.0"/>
<text transform="translate(135.8 778.5) scale(0.99 1.06)" font-size="25" fill="#000" text-anchor="end">15</text>
<path d="M144.7 707.0 H152.5" stroke="#000" stroke-width="2.0"/>
<text transform="translate(135.8 717.0) scale(0.99 1.06)" font-size="25" fill="#000" text-anchor="end">20</text>
<path d="M144.7 645.5 H152.5" stroke="#000" stroke-width="2.0"/>
<text transform="translate(135.8 655.5) scale(0.99 1.06)" font-size="25" fill="#000" text-anchor="end">25</text>
<path d="M144.7 584.0 H152.5" stroke="#000" stroke-width="2.0"/>
<text transform="translate(135.8 594.0) scale(0.99 1.06)" font-size="25" fill="#000" text-anchor="end">30</text>
<path d="M144.7 522.5 H152.5" stroke="#000" stroke-width="2.0"/>
<text transform="translate(135.8 532.5) scale(0.99 1.06)" font-size="25" fill="#000" text-anchor="end">35</text>
<path d="M245.0 954.2 V962.9" stroke="#000" stroke-width="2.0"/>
<text transform="translate(245.0 990.8) scale(0.99 1.06)" font-size="25" fill="#000" text-anchor="middle">10</text>
<path d="M375.5 954.2 V962.9" stroke="#000" stroke-width="2.0"/>
<text transform="translate(375.5 990.8) scale(0.99 1.06)" font-size="25" fill="#000" text-anchor="middle">20</text>
<path d="M505.9 954.2 V962.9" stroke="#000" stroke-width="2.0"/>
<text transform="translate(505.9 990.8) scale(0.99 1.06)" font-size="25" fill="#000" text-anchor="middle">30</text>
<path d="M636.4 954.2 V962.9" stroke="#000" stroke-width="2.0"/>
<text transform="translate(636.4 990.8) scale(0.99 1.06)" font-size="25" fill="#000" text-anchor="middle">40</text>
<path d="M766.8 954.2 V962.9" stroke="#000" stroke-width="2.0"/>
<text transform="translate(766.8 990.8) scale(0.99 1.06)" font-size="25" fill="#000" text-anchor="middle">50</text>
<path d="M897.3 954.2 V962.9" stroke="#000" stroke-width="2.0"/>
<text transform="translate(897.3 990.8) scale(0.99 1.06)" font-size="25" fill="#000" text-anchor="middle">60</text>
<text transform="translate(86.0 738.4) rotate(-90)" font-size="35.20" fill="#000" text-anchor="middle">Relative Temperature in K</text>
<text x="525.5" y="1032.2" font-size="35" fill="#000" text-anchor="middle">time in m</text>
<text x="0.6" y="554" font-size="40" fill="#000">b)</text>
</g>
</g>
</svg></div></body></html>
